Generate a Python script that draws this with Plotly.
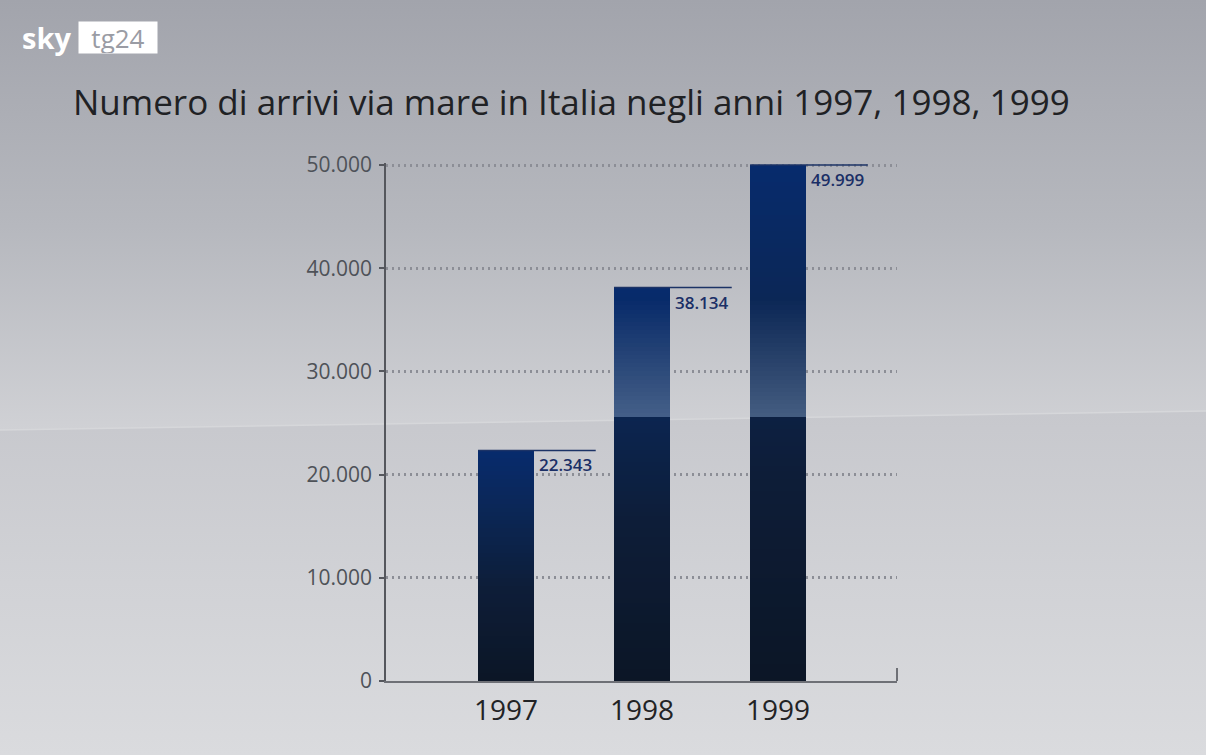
import base64
import plotly.graph_objects as go

# ---- data ----
years = ["1997", "1998", "1999"]
arrivals = [22343, 38134, 49999]
y_ticks = [0, 10000, 20000, 30000, 40000, 50000]
title_text = "Numero di arrivi via mare in Italia negli anni 1997, 1998, 1999"


def fmt(v):
    return f"{v:,}".replace(",", ".")


W, H = 1206, 755
y_max = 50200
px_per = 516 / 50000
L, R, B = 386, 309, 74
PH = int(round(y_max * px_per))
T = H - B - PH
PW = W - L - R
x_pos = list(range(len(years)))
x_range = [-0.882, 2.875]
bar_w = 0.41


def hex2rgb(h):
    h = h.lstrip("#")
    return [int(h[i:i + 2], 16) for i in (0, 2, 4)]


def lerp(c1, c2, a):
    return [c1[i] + (c2[i] - c1[i]) * a for i in range(3)]


stops = [(0.0, "#0c1626"), (0.4, "#0d1d38"), (0.75, "#0b2757"), (1.0, "#072b6d")]
glass = hex2rgb("#8aa8d0")


def bar_color(t, yv):
    t = max(0.0, min(1.0, t))
    c = hex2rgb(stops[-1][1])
    for (t0, c0), (t1, c1) in zip(stops[:-1], stops[1:]):
        if t <= t1:
            a = (t - t0) / (t1 - t0) if t1 > t0 else 0
            c = lerp(hex2rgb(c0), hex2rgb(c1), a)
            break
    if yv > 25500:
        al = max(0.0, min(1.0, (37000 - yv) / (37000 - 25500))) * 0.45
        c = lerp(c, glass, al)
    return "rgb(%d,%d,%d)" % tuple(int(round(v)) for v in c)


fig = go.Figure()

# bars drawn as stacked overlays (each from a slice base up to the bar value) for a gradient
step = 400
n_slices = int(max(arrivals) // step) + 1
for k in range(n_slices):
    base = k * step
    heights = [(v - base) if v > base else None for v in arrivals]
    cols = [bar_color((base + step / 2) / v, base + step / 2) for v in arrivals]
    fig.add_trace(go.Bar(
        x=x_pos, y=heights, base=[base] * len(arrivals), width=bar_w,
        marker=dict(color=cols, line=dict(width=0)),
        showlegend=False, hoverinfo="skip", cliponaxis=False,
    ))

# value labels with leader line
for xi, v in zip(x_pos, arrivals):
    x0 = xi + bar_w / 2
    fig.add_shape(type="line", xref="x", yref="y", x0=xi - bar_w / 2, x1=x0 + 0.455,
                  y0=v, y1=v, line=dict(color="#1c3366", width=1.5), layer="above")
    fig.add_annotation(x=x0, y=v, xref="x", yref="y", text=fmt(v), showarrow=False,
                       xanchor="left", yanchor="top", xshift=3, yshift=-1,
                       font=dict(family="Open Sans", size=17, color="#1b2f66", weight=600))

# right end tick of x axis
fig.add_shape(type="line", xref="paper", yref="paper", x0=1, x1=1, y0=0, y1=13 / PH,
              line=dict(color="#6e7076", width=2))

# background gradient as svg
svg = f'''<svg xmlns="http://www.w3.org/2000/svg" width="{W}" height="{H}" viewBox="0 0 {W} {H}" preserveAspectRatio="none">
<defs>
<linearGradient id="g1" x1="0" y1="0" x2="0" y2="1">
<stop offset="0" stop-color="#a2a4ac"/>
<stop offset="0.3" stop-color="#b6b8be"/>
<stop offset="0.57" stop-color="#d0d1d5"/>
<stop offset="1" stop-color="#d4d5d9"/>
</linearGradient>
<linearGradient id="g2" x1="0" y1="0" x2="0" y2="1">
<stop offset="0" stop-color="#c7c8cd"/>
<stop offset="0.5" stop-color="#d1d2d6"/>
<stop offset="1" stop-color="#dadbde"/>
</linearGradient>
</defs>
<rect x="0" y="0" width="{W}" height="{H}" fill="url(#g1)"/>
<polygon points="0,430 1206,411 1206,755 0,755" fill="url(#g2)"/>
<line x1="0" y1="430" x2="1206" y2="411" stroke="#d6d7da" stroke-width="1.5"/>
</svg>'''
src = "data:image/svg+xml;base64," + base64.b64encode(svg.encode()).decode()
fig.add_layout_image(dict(source=src, xref="paper", yref="paper",
                          x=-L / PW, y=1 + T / PH, sizex=W / PW, sizey=H / PH,
                          xanchor="left", yanchor="top", sizing="stretch", layer="below"))

# logo
fig.add_annotation(xref="paper", yref="paper", x=(20 - L) / PW, y=1 + (T - 37) / PH,
                   text="<b>sky</b>", showarrow=False, xanchor="left", yanchor="middle",
                   font=dict(family="Open Sans", size=29, color="white"))
fig.add_annotation(xref="paper", yref="paper", x=(78 - L) / PW, y=1 + (T - 37.5) / PH,
                   text="tg24", showarrow=False, xanchor="left", yanchor="middle",
                   bgcolor="white", borderpad=0, width=78, height=31,
                   font=dict(family="Open Sans", size=26, color="#9a9ca4"))

fig.update_layout(
    width=W, height=H,
    margin=dict(l=L, r=R, t=T, b=B, pad=0),
    paper_bgcolor="#c8c9ce", plot_bgcolor="rgba(0,0,0,0)",
    barmode="overlay", bargap=0,
    title=dict(text=title_text, x=73 / W, xanchor="left", y=1 - 103 / H, yanchor="middle",
               font=dict(family="Open Sans", size=35, color="#202124")),
    xaxis=dict(range=x_range, tickvals=x_pos, ticktext=years, showgrid=False, zeroline=False,
               showline=True, linecolor="#6e7076", linewidth=2, ticks="",
               ticklabelstandoff=3,
               tickfont=dict(family="Open Sans", size=28, color="#222325")),
    yaxis=dict(range=[0, y_max], tickvals=y_ticks, ticktext=[fmt(v) for v in y_ticks],
               showgrid=True, gridcolor="#8c8e96", griddash="2px,4px", gridwidth=2.5,
               zeroline=False, showline=True, linecolor="#55575d", linewidth=1.5,
               ticks="outside", ticklen=5, tickwidth=1.5, tickcolor="#55575d",
               ticklabelstandoff=3,
               tickfont=dict(family="Open Sans", size=21, color="#4e5258")),
)

fig.write_html("out.html")
